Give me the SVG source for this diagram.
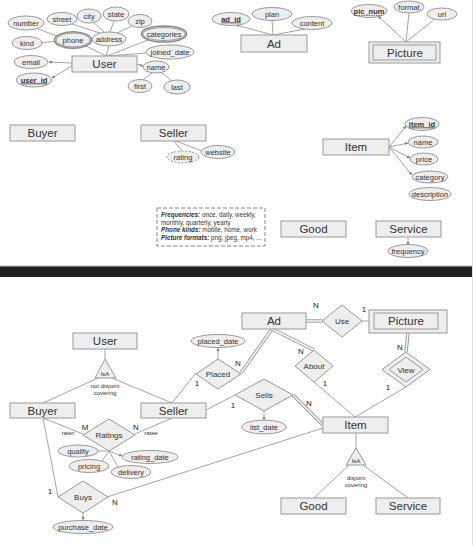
<svg xmlns="http://www.w3.org/2000/svg" width="474" height="545" viewBox="0 0 474 545">
<style>
text{font-family:"Liberation Sans",Arial,sans-serif;fill:#333;text-anchor:middle}
.ent rect,.ent polygon{fill:#eeeeee;stroke:#999;stroke-width:1}
.att ellipse{fill:#eeeeee;stroke:#999;stroke-width:1}
.att ellipse.dbl{fill:none;stroke:#888;stroke-width:1.6}
.et{font-size:11.5px}
.at{font-size:7.5px}
.dt{font-size:8px}
.ct{font-size:8px;fill:#222}
.sm{font-size:6px}
.key{text-decoration:underline;font-weight:bold}
#connectors line{stroke:#999;stroke-width:0.9;fill:none}
#connectors line.dl{stroke:#999;stroke-width:3.4}
#connectors line.dw{stroke:#fff;stroke-width:1.4}
.att ellipse.dash{stroke-dasharray:2,1.5}
</style>
<defs>
<marker id="ar" markerWidth="4" markerHeight="4" refX="3" refY="2" orient="auto" markerUnits="userSpaceOnUse">
<path d="M0,0.5 L3,2 L0,3.5 Z" fill="#777"/>
</marker>
</defs>
<rect width="474" height="545" fill="#fff"/>
<rect x="0" y="266" width="472" height="11" fill="#222"/>
<line x1="0" y1="266" x2="472" y2="266" stroke="#bbb" stroke-width="1"/>
<line x1="472.5" y1="0" x2="472.5" y2="545" stroke="#ddd" stroke-width="1"/>

<g id="connectors">
<line x1="38" y1="29" x2="60" y2="37"/>
<line x1="42" y1="43" x2="56" y2="41"/>
<line x1="72" y1="24" x2="100" y2="33"/>
<line x1="93" y1="22" x2="104" y2="32"/>
<line x1="114" y1="21" x2="110" y2="32"/>
<line x1="132" y1="26" x2="117" y2="33"/>
<line x1="84" y1="45" x2="106" y2="56"/>
<line x1="109" y1="46" x2="106" y2="56"/>
<line x1="148" y1="40" x2="107" y2="56"/>
<line x1="146" y1="53" x2="108" y2="56"/>
<line x1="72" y1="63" x2="49" y2="62" marker-end="url(#ar)"/>
<line x1="72" y1="66" x2="52" y2="78" marker-end="url(#ar)"/>
<line x1="137" y1="64" x2="143" y2="66" marker-end="url(#ar)"/>
<line x1="152" y1="73" x2="143" y2="80"/>
<line x1="162" y1="73" x2="172" y2="81"/>
<line x1="273" y1="35" x2="236" y2="25" marker-end="url(#ar)"/>
<line x1="273" y1="35" x2="272" y2="20"/>
<line x1="273" y1="35" x2="305" y2="29"/>
<line x1="406" y1="42" x2="378" y2="16" marker-end="url(#ar)"/>
<line x1="406" y1="42" x2="409" y2="13"/>
<line x1="406" y1="42" x2="435" y2="19"/>
<line x1="174" y1="141" x2="182" y2="151"/>
<line x1="176" y1="141" x2="202" y2="151"/>
<line x1="389" y1="147" x2="406" y2="126" marker-end="url(#ar)"/>
<line x1="389" y1="147" x2="408" y2="143" marker-end="url(#ar)"/>
<line x1="389" y1="147" x2="410" y2="158" marker-end="url(#ar)"/>
<line x1="389" y1="147" x2="412" y2="175" marker-end="url(#ar)"/>
<line x1="408" y1="237" x2="408" y2="245" marker-end="url(#ar)"/>

<line x1="105" y1="349" x2="105" y2="359"/>
<line x1="98" y1="378" x2="43" y2="403"/>
<line x1="112" y1="378" x2="172" y2="403"/>
<line x1="172" y1="403" x2="196" y2="373"/>
<line x1="218" y1="359" x2="218" y2="348" marker-end="url(#ar)"/>
<line class="dl" x1="241" y1="373" x2="272" y2="329"/>
<line class="dw" x1="241" y1="373" x2="272" y2="329"/>
<line class="dl" x1="272" y1="329" x2="314" y2="350"/>
<line class="dw" x1="272" y1="329" x2="314" y2="350"/>
<line class="dl" x1="306" y1="321" x2="322" y2="321"/>
<line class="dw" x1="306" y1="321" x2="322" y2="321"/>
<line x1="362" y1="321" x2="369" y2="321"/>
<line class="dl" x1="408" y1="333" x2="406" y2="352"/>
<line class="dw" x1="408" y1="333" x2="406" y2="352"/>
<line x1="406" y1="387" x2="355" y2="417"/>
<line x1="314" y1="382" x2="355" y2="417"/>
<line x1="206" y1="410" x2="235" y2="395"/>
<line x1="264" y1="411" x2="264" y2="420" marker-end="url(#ar)"/>
<line class="dl" x1="293" y1="395" x2="323" y2="425"/>
<line class="dw" x1="293" y1="395" x2="323" y2="425"/>
<line x1="356" y1="433" x2="356" y2="448"/>
<line x1="349" y1="465" x2="314" y2="498"/>
<line x1="363" y1="465" x2="408" y2="498"/>
<line x1="43" y1="418" x2="83" y2="434"/>
<line x1="172" y1="418" x2="135" y2="434"/>
<line x1="109" y1="451" x2="98" y2="451"/>
<line x1="109" y1="451" x2="102" y2="461"/>
<line x1="109" y1="451" x2="122" y2="456" marker-end="url(#ar)"/>
<line x1="109" y1="451" x2="118" y2="467"/>
<line x1="43" y1="418" x2="58" y2="497"/>
<line x1="107" y1="497" x2="323" y2="428"/>
<line x1="83" y1="513" x2="83" y2="520" marker-end="url(#ar)"/>
</g>

<g id="user-top" class="ent"><rect x="72" y="56" width="65" height="16"/><text class="et" x="104.5" y="68">User</text></g>
<g id="ad-top" class="ent"><rect x="241" y="35" width="66" height="17"/><text class="et" x="274" y="48">Ad</text></g>
<g id="picture-top" class="ent"><rect x="369" y="42" width="71" height="21"/><rect x="373" y="45" width="63" height="15"/><text class="et" x="405" y="56.5">Picture</text></g>
<g id="buyer-top" class="ent"><rect x="10" y="125" width="65" height="16"/><text class="et" x="42.5" y="137">Buyer</text></g>
<g id="seller-top" class="ent"><rect x="141" y="125" width="65" height="16"/><text class="et" x="173.5" y="137">Seller</text></g>
<g id="item-top" class="ent"><rect x="323" y="139" width="66" height="16"/><text class="et" x="356" y="151">Item</text></g>
<g id="good-top" class="ent"><rect x="281" y="221" width="65" height="16"/><text class="et" x="313.5" y="233">Good</text></g>
<g id="service-top" class="ent"><rect x="376" y="221" width="65" height="16"/><text class="et" x="408.5" y="233">Service</text></g>

<g id="a-number" class="att"><ellipse cx="26" cy="23" rx="18" ry="7"/><text class="at" x="26" y="25.5">number</text></g>
<g id="a-street" class="att"><ellipse cx="62" cy="19" rx="15" ry="6.5"/><text class="at" x="62" y="21.5">street</text></g>
<g id="a-city" class="att"><ellipse cx="89" cy="16" rx="12" ry="7"/><text class="at" x="89" y="18.5">city</text></g>
<g id="a-state" class="att"><ellipse cx="116" cy="14" rx="13" ry="7"/><text class="at" x="116" y="16.5">state</text></g>
<g id="a-zip" class="att"><ellipse cx="140" cy="21" rx="12" ry="6.5"/><text class="at" x="140" y="23.5">zip</text></g>
<g id="a-phone" class="att"><ellipse cx="73" cy="40" rx="17" ry="7"/><ellipse class="dbl" cx="73" cy="40" rx="18.5" ry="8.3"/><text class="at" x="73" y="42.5">phone</text></g>
<g id="a-kind" class="att"><ellipse cx="27" cy="43" rx="15" ry="6.5"/><text class="at" x="27" y="45.5">kind</text></g>
<g id="a-address" class="att"><ellipse cx="109" cy="39" rx="17" ry="7"/><text class="at" x="109" y="41.5">address</text></g>
<g id="a-categories" class="att"><ellipse cx="164" cy="34" rx="21" ry="6.5"/><ellipse class="dbl" cx="164" cy="34" rx="22.5" ry="8"/><text class="at" x="164" y="36.5">categories</text></g>
<g id="a-joined" class="att"><ellipse cx="170" cy="52" rx="24" ry="7"/><text class="at" x="170" y="54.5">joined_date</text></g>
<g id="a-email" class="att"><ellipse cx="31" cy="62" rx="17" ry="6.5"/><text class="at" x="31" y="64.5">email</text></g>
<g id="a-userid" class="att"><ellipse cx="34" cy="80" rx="18" ry="7"/><text class="at key" x="34" y="82.5">user_id</text></g>
<g id="a-name" class="att"><ellipse cx="156" cy="67" rx="13" ry="6"/><text class="at" x="156" y="69.5">name</text></g>
<g id="a-first" class="att"><ellipse cx="140" cy="86" rx="12" ry="6.5"/><text class="at" x="140" y="88.5">first</text></g>
<g id="a-last" class="att"><ellipse cx="177" cy="87" rx="13" ry="7"/><text class="at" x="177" y="89.5">last</text></g>
<g id="a-adid" class="att"><ellipse cx="231" cy="19" rx="19" ry="6.5"/><text class="at key" x="231" y="21.5">ad_id</text></g>
<g id="a-plan" class="att"><ellipse cx="272" cy="14" rx="20" ry="6.5"/><text class="at" x="272" y="16.5">plan</text></g>
<g id="a-content" class="att"><ellipse cx="312" cy="23" rx="20" ry="6.5"/><text class="at" x="312" y="25.5">content</text></g>
<g id="a-picnum" class="att"><ellipse cx="369" cy="11" rx="18" ry="6.5"/><text class="at" x="369" y="13.5" font-weight="bold">pic_num</text><line x1="356" y1="15.5" x2="382" y2="15.5" stroke="#333" stroke-width="0.7" stroke-dasharray="1.5,1"/></g>
<g id="a-format" class="att"><ellipse cx="409" cy="7" rx="15" ry="6"/><text class="at" x="409" y="9.5">format</text></g>
<g id="a-url" class="att"><ellipse cx="442" cy="14" rx="15" ry="6"/><text class="at" x="442" y="16.5">url</text></g>
<g id="a-rating" class="att"><ellipse class="dash" cx="183" cy="157" rx="16" ry="6"/><text class="at" x="183" y="159.5">rating</text></g>
<g id="a-website" class="att"><ellipse cx="218" cy="152" rx="17" ry="6.5"/><text class="at" x="218" y="154.5">website</text></g>
<g id="a-itemid" class="att"><ellipse cx="422" cy="124" rx="17" ry="6.5"/><text class="at key" x="422" y="126.5">item_id</text></g>
<g id="a-iname" class="att"><ellipse cx="423" cy="142" rx="15" ry="6"/><text class="at" x="423" y="144.5">name</text></g>
<g id="a-price" class="att"><ellipse cx="424" cy="159" rx="14" ry="6"/><text class="at" x="424" y="161.5">price</text></g>
<g id="a-category" class="att"><ellipse cx="430" cy="177" rx="18" ry="6"/><text class="at" x="430" y="179.5">category</text></g>
<g id="a-description" class="att"><ellipse cx="430" cy="194" rx="21" ry="6.5"/><text class="at" x="430" y="196.5">description</text></g>
<g id="a-frequency" class="att"><ellipse cx="408" cy="251" rx="20" ry="6.5"/><text class="at" x="408" y="253.5">frequency</text></g>

<g id="note">
<rect x="157" y="208" width="108" height="38" fill="#fff" stroke="#777" stroke-width="0.9" stroke-dasharray="4,2"/>
<text font-size="6.3" x="161" y="217" style="text-anchor:start"><tspan font-weight="bold" font-style="italic">Frequencies:</tspan> once, daily, weekly,</text>
<text font-size="6.3" x="161" y="224.5" style="text-anchor:start">monthly, quarterly, yearly</text>
<text font-size="6.3" x="161" y="232" style="text-anchor:start"><tspan font-weight="bold" font-style="italic">Phone kinds:</tspan> mobile, home, work</text>
<text font-size="6.3" x="161" y="239.5" style="text-anchor:start"><tspan font-weight="bold" font-style="italic">Picture formats:</tspan> png, jpeg, mp4, ...</text>
</g>

<g id="user" class="ent"><rect x="73" y="333" width="64" height="16"/><text class="et" x="105" y="345">User</text></g>
<g id="isa-user" class="ent"><polygon points="105,359 95,378 116,378"/><text class="sm" x="105" y="375.5">IsA</text><text class="sm" x="105" y="388">not disjoint</text><text class="sm" x="105" y="395">covering</text></g>
<g id="buyer" class="ent"><rect x="10" y="403" width="65" height="15"/><text class="et" x="42.5" y="414.5">Buyer</text></g>
<g id="seller" class="ent"><rect x="141" y="403" width="65" height="15"/><text class="et" x="173.5" y="414.5">Seller</text></g>
<g id="ad" class="ent"><rect x="242" y="313" width="64" height="16"/><text class="et" x="274" y="325">Ad</text></g>
<g id="picture" class="ent"><rect x="369" y="310" width="78" height="23"/><rect x="374" y="313" width="64" height="16"/><text class="et" x="406" y="325">Picture</text></g>
<g id="item" class="ent"><rect x="323" y="417" width="65" height="16"/><text class="et" x="355.5" y="429">Item</text></g>
<g id="isa-item" class="ent"><polygon points="356,448 346,465 366,465"/><text class="sm" x="356" y="462.5">IsA</text><text class="sm" x="356" y="480">disjoint</text><text class="sm" x="356" y="487">covering</text></g>
<g id="good" class="ent"><rect x="281" y="498" width="65" height="16"/><text class="et" x="313.5" y="510">Good</text></g>
<g id="service" class="ent"><rect x="376" y="498" width="64" height="16"/><text class="et" x="408" y="510">Service</text></g>

<g id="placed" class="ent"><polygon points="218,359 241,374 218,389 196,374"/><text class="dt" x="218" y="377">Placed</text></g>
<g id="use" class="ent"><polygon points="342,305 362,321 342,337 322,321"/><text class="dt" x="342" y="324">Use</text></g>
<g id="about" class="ent"><polygon points="314,350 333,366 314,382 295,366"/><text class="dt" x="314" y="369">About</text></g>
<g id="view" class="ent"><polygon points="406,352 430,369.5 406,387 382,369.5"/><polygon points="406,357 423,369.5 406,382 389,369.5"/><text class="dt" x="406" y="372.5">View</text></g>
<g id="sells" class="ent"><polygon points="264,379 293,395 264,411 235,395"/><text class="dt" x="264" y="398">Sells</text></g>
<g id="ratings" class="ent"><polygon points="109,419 135,435 109,451 83,435"/><text class="dt" x="109" y="438">Ratings</text></g>
<g id="buys" class="ent"><polygon points="83,481 108,497 83,513 58,497"/><text class="dt" x="83" y="500">Buys</text></g>

<g id="a-placed-date" class="att"><ellipse cx="218" cy="341" rx="27" ry="6.5"/><text class="at" x="218" y="343.5">placed_date</text></g>
<g id="a-list-date" class="att"><ellipse cx="264" cy="427" rx="22" ry="7"/><text class="at" x="264" y="429.5">list_date</text></g>
<g id="a-quality" class="att"><ellipse cx="78" cy="451" rx="20" ry="6"/><text class="at" x="78" y="453.5">quality</text></g>
<g id="a-pricing" class="att"><ellipse cx="89" cy="466" rx="20" ry="6.5"/><text class="at" x="89" y="468.5">pricing</text></g>
<g id="a-rating-date" class="att"><ellipse cx="150" cy="457" rx="28" ry="6.5"/><text class="at" x="150" y="459.5">rating_date</text></g>
<g id="a-delivery" class="att"><ellipse cx="131" cy="472" rx="20" ry="6.5"/><text class="at" x="131" y="474.5">delivery</text></g>
<g id="a-purchase-date" class="att"><ellipse cx="83" cy="527" rx="30" ry="6.5"/><text class="at" x="83" y="529.5">purchase_date</text></g>

<g id="labels">
<text class="ct" x="197" y="386">1</text>
<text class="ct" x="238" y="366">N</text>
<text class="ct" x="316" y="308">N</text>
<text class="ct" x="364" y="312">1</text>
<text class="ct" x="400" y="350">N</text>
<text class="ct" x="388" y="390">1</text>
<text class="ct" x="301" y="354">N</text>
<text class="ct" x="325" y="386">1</text>
<text class="ct" x="233" y="408">1</text>
<text class="ct" x="309" y="406">N</text>
<text class="ct" x="85" y="430">M</text>
<text class="sm" x="68" y="435">rater</text>
<text class="ct" x="136" y="430">N</text>
<text class="sm" x="151" y="435">ratee</text>
<text class="ct" x="50" y="494">1</text>
<text class="ct" x="115" y="505">N</text>
</g>
</svg>
